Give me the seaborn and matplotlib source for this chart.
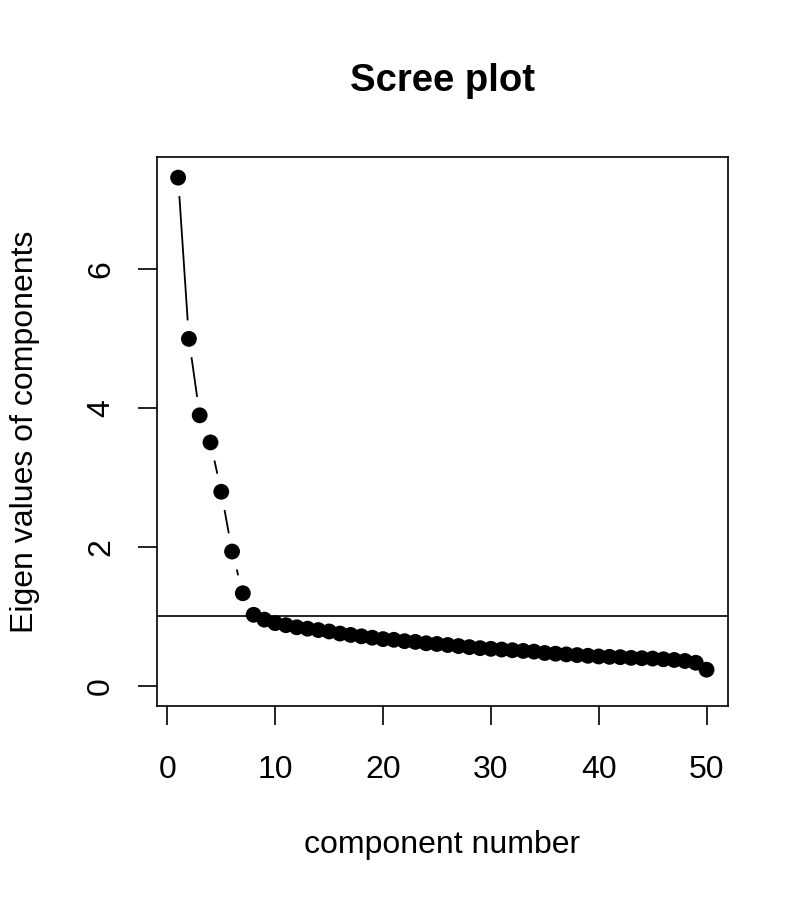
import numpy as np
import pandas as pd
import seaborn as sns
import matplotlib.pyplot as plt
from matplotlib.collections import LineCollection

# eigen values
component = list(range(1, 51))
eigen = [7.31, 4.99, 3.89, 3.50, 2.79, 1.93, 1.33, 1.02, 0.95, 0.90,
         0.87, 0.84, 0.82, 0.80, 0.78, 0.75, 0.73, 0.71, 0.69, 0.67,
         0.66, 0.64, 0.63, 0.61, 0.60, 0.585, 0.57, 0.555, 0.54, 0.53,
         0.52, 0.51, 0.50, 0.49, 0.47, 0.46, 0.45, 0.44, 0.43, 0.42,
         0.415, 0.41, 0.40, 0.395, 0.39, 0.38, 0.37, 0.355, 0.33, 0.23]
xticks = [0, 10, 20, 30, 40, 50]
yticks = [0, 2, 4, 6]

df = pd.DataFrame({"component": component, "eigen": eigen})

sns.set_theme(style="white")
plt.rcParams['font.family'] = ['Liberation Sans', 'DejaVu Sans']

fig = plt.figure(figsize=(8.08, 9.02), dpi=100)
ax = fig.add_axes([0.1943, 0.2173, 0.7063, 0.6083])

sns.scatterplot(data=df, x="component", y="eigen", ax=ax, color="black",
                s=130, edgecolor="none", zorder=3)

# R-style limits (4% padding, y starts at 0)
xr = max(component) - min(component)
ax.set_xlim(min(component) - 0.04 * xr, max(component) + 0.04 * xr)
ymax = max(eigen)
ax.set_ylim(-0.04 * ymax, ymax * 1.04)

# type="b": segments between points with a gap around each point
fig.canvas.draw()
pts = ax.transData.transform(np.column_stack([component, eigen]))
gap = 18.5
segs = []
for p, q in zip(pts[:-1], pts[1:]):
    d = q - p
    L = np.hypot(*d)
    if L > 2 * gap:
        u = d / L
        segs.append([p + u * gap, q - u * gap])
inv = ax.transData.inverted()
segs = [inv.transform(np.array(s)) for s in segs]
ax.add_collection(LineCollection(segs, colors="black", linewidths=1.3))

ax.axhline(1, color="black", linewidth=1.2)

ax.set_xticks(xticks)
ax.set_yticks(yticks)
ax.tick_params(axis="both", direction="out", length=13.5, width=1.2,
               color="black", labelsize=23, labelcolor="black",
               bottom=True, left=True)
ax.tick_params(axis="x", pad=21.5)
ax.tick_params(axis="y", pad=16)
for lab in ax.get_yticklabels():
    lab.set_rotation(90)
    lab.set_va("center")
for sp in ax.spines.values():
    sp.set_color("black")
    sp.set_linewidth(1.2)

ax.set_xlabel("component number", fontsize=23, color="black")
ax.xaxis.set_label_coords(0.5, -0.253)
ax.xaxis.label.set_va("center")
ax.set_ylabel("Eigen values of components", fontsize=23, color="black")
ax.yaxis.set_label_coords(-0.232, 0.5)
ax.yaxis.label.set_va("center")
ax.set_title("Scree plot", fontsize=27.5, fontweight="bold", color="black",
             y=1.123, va="center")

fig.savefig("out.png", dpi=100)
